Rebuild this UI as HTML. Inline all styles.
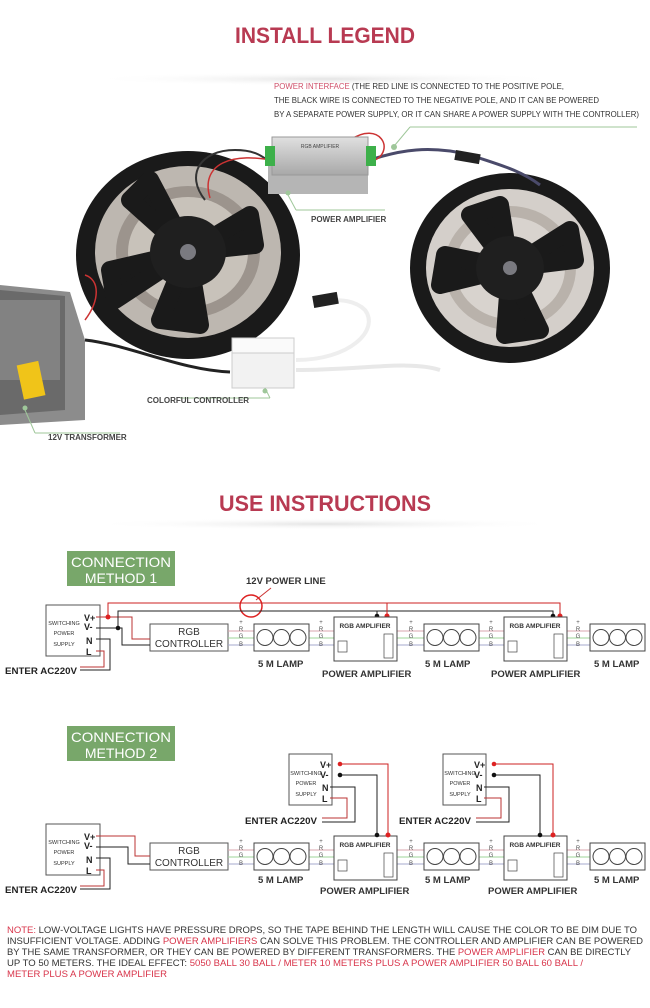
<!DOCTYPE html>
<html><head><meta charset="utf-8"><style>
html,body{margin:0;padding:0;background:#fff;}
svg{display:block;font-family:"Liberation Sans",sans-serif;}
</style></head><body>
<svg width="650" height="1008" viewBox="0 0 650 1008" xmlns="http://www.w3.org/2000/svg">
<defs>
<radialGradient id="sh" cx="0.5" cy="0.5" r="0.5"><stop offset="0" stop-color="#e4e4e4"/><stop offset="1" stop-color="#fff" stop-opacity="0"/></radialGradient>
<linearGradient id="met" x1="0" y1="0" x2="0" y2="1"><stop offset="0" stop-color="#e0e0e0"/><stop offset="1" stop-color="#a8a8a8"/></linearGradient>
</defs>
<rect width="650" height="1008" fill="#fff"/>
<ellipse cx="325" cy="79" rx="240" ry="7" fill="url(#sh)"/>
<text x="325" y="43" font-size="22" font-weight="bold" fill="#b83a52" text-anchor="middle" textLength="180" lengthAdjust="spacingAndGlyphs">INSTALL LEGEND</text>

<g font-size="8.3">
<text x="274" y="89" fill="#333" textLength="290" lengthAdjust="spacingAndGlyphs"><tspan fill="#d0506a">POWER INTERFACE</tspan>  (THE RED LINE IS CONNECTED TO THE POSITIVE POLE,</text>
<text x="274" y="103" fill="#333" textLength="325" lengthAdjust="spacingAndGlyphs">THE BLACK WIRE IS CONNECTED TO THE NEGATIVE POLE, AND IT CAN BE POWERED</text>
<text x="274" y="117" fill="#333" textLength="365" lengthAdjust="spacingAndGlyphs">BY A SEPARATE POWER SUPPLY, OR IT CAN SHARE A POWER SUPPLY WITH THE CONTROLLER)</text>
</g>
<line x1="395" y1="145" x2="410" y2="127" stroke="#9fc79a" stroke-width="1"/>
<line x1="410" y1="127" x2="637" y2="127" stroke="#9fc79a" stroke-width="1"/>
<circle cx="394" cy="147" r="3" fill="#9fc79a"/>

<ellipse cx="188" cy="255" rx="112" ry="104" fill="#1a1a1a"/>
<ellipse cx="188" cy="252" rx="93" ry="86" fill="#bdb7b0"/>
<ellipse cx="188" cy="252" rx="72" ry="66" fill="#9c948d"/>
<ellipse cx="188" cy="252" rx="60" ry="55" fill="#c8c2ba"/>
<path d="M188 252 L130 200 L150 180 Z M188 252 L250 215 L255 245 Z M188 252 L160 320 L200 325 Z M188 252 L110 270 L115 300 Z" fill="#1a1a1a" stroke="#1a1a1a" stroke-width="18" stroke-linejoin="round"/>
<ellipse cx="188" cy="252" rx="38" ry="36" fill="#1f1f1f"/>
<circle cx="188" cy="252" r="8" fill="#7a7a80"/>
<ellipse cx="510" cy="268" rx="100" ry="95" fill="#1a1a1a"/>
<ellipse cx="510" cy="268" rx="84" ry="79" fill="#d4cfca"/>
<ellipse cx="510" cy="268" rx="66" ry="62" fill="#b9b2ab"/>
<ellipse cx="510" cy="268" rx="55" ry="51" fill="#d8d3ce"/>
<path d="M510 268 L470 215 L500 205 Z M510 268 L570 230 L575 260 Z M510 268 L540 330 L505 335 Z M510 268 L440 285 L445 255 Z" fill="#1a1a1a" stroke="#1a1a1a" stroke-width="18" stroke-linejoin="round"/>
<ellipse cx="510" cy="268" rx="34" ry="32" fill="#1f1f1f"/>
<circle cx="510" cy="268" r="7" fill="#7a7a80"/>

<path d="M205 200 C185 175 200 150 235 150 C260 150 265 160 275 165" fill="none" stroke="#333" stroke-width="2"/>
<path d="M210 198 C200 165 230 150 280 162" fill="none" stroke="#c33" stroke-width="1.5"/>
<path d="M370 160 C400 150 430 145 470 155 C500 165 520 170 540 185" fill="none" stroke="#4a4a6a" stroke-width="3"/>
<path d="M350 140 C380 120 395 150 375 160" fill="none" stroke="#c33" stroke-width="1.5"/>
<rect x="455" y="152" width="25" height="10" fill="#222" transform="rotate(10 467 157)"/>
<rect x="268" y="162" width="100" height="32" fill="#b5b5b5"/>
<rect x="272" y="137" width="96" height="38" fill="url(#met)" stroke="#999"/>
<text x="320" y="148" font-size="5" fill="#444" text-anchor="middle">RGB AMPLIFIER</text>
<rect x="265" y="146" width="10" height="20" fill="#3db04a"/>
<rect x="366" y="146" width="10" height="20" fill="#3db04a"/>
<line x1="288" y1="195" x2="296" y2="210" stroke="#9fc79a"/>
<line x1="296" y1="210" x2="385" y2="210" stroke="#9fc79a"/>
<circle cx="288" cy="193" r="2.5" fill="#9fc79a"/>
<text x="311" y="222" font-size="8" font-weight="bold" fill="#444">POWER AMPLIFIER</text>

<path d="M0 285 L70 292 L85 340 L85 420 L0 425 Z" fill="#8c8c8c"/>
<path d="M0 290 L65 296 L65 410 L0 415 Z" fill="#6a6a6a"/>
<rect x="0" y="300" width="60" height="80" fill="#9a9a9a" opacity="0.5"/>
<rect x="20" y="363" width="22" height="35" fill="#f0c419" transform="rotate(-12 30 380)"/>
<path d="M85 320 C100 300 100 280 85 275" stroke="#c33" fill="none" stroke-width="1.5"/>
<path d="M85 340 C130 345 180 370 230 372" stroke="#222" fill="none" stroke-width="3"/>
<line x1="25" y1="410" x2="35" y2="433" stroke="#9fc79a"/>
<line x1="35" y1="433" x2="120" y2="433" stroke="#9fc79a"/>
<circle cx="25" cy="408" r="2.5" fill="#9fc79a"/>
<text x="48" y="440" font-size="8" font-weight="bold" fill="#444">12V TRANSFORMER</text>

<path d="M296 360 C350 360 380 330 365 310 C355 300 340 300 330 300" fill="none" stroke="#eee" stroke-width="4"/>
<path d="M296 370 C360 370 410 360 440 370" fill="none" stroke="#e8e8e8" stroke-width="4"/>
<rect x="313" y="294" width="25" height="12" fill="#222" transform="rotate(-10 325 300)"/>
<rect x="232" y="338" width="62" height="50" fill="#f2f2f2" stroke="#ccc"/>
<rect x="232" y="338" width="62" height="15" fill="#fafafa" stroke="#ccc"/>
<line x1="265" y1="388" x2="270" y2="398" stroke="#9fc79a"/>
<line x1="180" y1="398" x2="270" y2="398" stroke="#9fc79a"/>
<circle cx="265" cy="391" r="2.5" fill="#9fc79a"/>
<text x="147" y="403" font-size="8" font-weight="bold" fill="#444">COLORFUL CONTROLLER</text>

<ellipse cx="325" cy="524" rx="240" ry="6" fill="url(#sh)"/>
<text x="325" y="511" font-size="22" font-weight="bold" fill="#b83a52" text-anchor="middle" textLength="212" lengthAdjust="spacingAndGlyphs">USE INSTRUCTIONS</text>

<rect x="67" y="551" width="108" height="35" fill="#78a76a"/>
<text x="121" y="567" font-size="14" fill="#fff" text-anchor="middle" textLength="100" lengthAdjust="spacingAndGlyphs">CONNECTION</text>
<text x="121" y="583" font-size="14" fill="#fff" text-anchor="middle">METHOD 1</text>
<text x="246" y="584" font-size="9.5" font-weight="bold" fill="#333">12V POWER LINE</text>
<line x1="271" y1="588" x2="256" y2="600" stroke="#c33"/>
<circle cx="251" cy="606" r="11" fill="none" stroke="#d22" stroke-width="1.5"/>

<g>
<rect x="46" y="605" width="54" height="51" fill="#fff" stroke="#555"/>
<text x="64" y="625" font-size="5.5" fill="#333" text-anchor="middle">SWITCHING</text>
<text x="64" y="635" font-size="5.5" fill="#333" text-anchor="middle">POWER</text>
<text x="64" y="646" font-size="5.5" fill="#333" text-anchor="middle">SUPPLY</text>
<text x="84" y="621" font-size="9" font-weight="bold" fill="#222">V+</text>
<text x="84" y="630" font-size="9" font-weight="bold" fill="#222">V-</text>
<text x="86" y="644" font-size="9" font-weight="bold" fill="#222">N</text>
<text x="86" y="655" font-size="9" font-weight="bold" fill="#222">L</text>
<text x="5" y="674" font-size="9.5" font-weight="bold" fill="#222" textLength="72" lengthAdjust="spacingAndGlyphs">ENTER AC220V</text>
<polyline points="80,670 110,670 110,639 96,639" fill="none" stroke="#222"/>
<polyline points="80,667 104,667 104,651 96,651" fill="none" stroke="#b33"/>
<rect x="150" y="624" width="78" height="27" fill="#fff" stroke="#555"/>
<text x="189" y="635" font-size="10" fill="#333" text-anchor="middle">RGB</text>
<text x="189" y="647" font-size="10" fill="#333" text-anchor="middle">CONTROLLER</text>
</g>
<polyline points="96,617 132,617 132,639 150,639" fill="none" stroke="#b33"/>
<polyline points="96,628 122,628 122,645 150,645" fill="none" stroke="#222"/>
<polyline points="108,617 108,603 560,603 560,617" fill="none" stroke="#c22"/>
<polyline points="118,628 118,611 553,611 553,617" fill="none" stroke="#222"/>
<line x1="387" y1="603" x2="387" y2="617" stroke="#c22"/>
<line x1="377" y1="611" x2="377" y2="617" stroke="#222"/>
<circle cx="108" cy="617" r="2.5" fill="#d22"/><circle cx="118" cy="628" r="2.3" fill="#111"/>
<circle cx="387" cy="616" r="2.5" fill="#d22"/><circle cx="377" cy="616" r="2.3" fill="#111"/>
<circle cx="560" cy="616" r="2.5" fill="#d22"/><circle cx="553" cy="616" r="2.3" fill="#111"/>

<g font-size="6" fill="#555">
<g stroke-width="1">
<line x1="228" y1="631" x2="254" y2="631" stroke="#d8a6ae"/><line x1="228" y1="638" x2="254" y2="638" stroke="#9fd49a"/><line x1="228" y1="645" x2="254" y2="645" stroke="#a6a8cc"/>
<line x1="309" y1="631" x2="334" y2="631" stroke="#d8a6ae"/><line x1="309" y1="638" x2="334" y2="638" stroke="#9fd49a"/><line x1="309" y1="645" x2="334" y2="645" stroke="#a6a8cc"/>
<line x1="397" y1="631" x2="424" y2="631" stroke="#d8a6ae"/><line x1="397" y1="638" x2="424" y2="638" stroke="#9fd49a"/><line x1="397" y1="645" x2="424" y2="645" stroke="#a6a8cc"/>
<line x1="479" y1="631" x2="504" y2="631" stroke="#d8a6ae"/><line x1="479" y1="638" x2="504" y2="638" stroke="#9fd49a"/><line x1="479" y1="645" x2="504" y2="645" stroke="#a6a8cc"/>
<line x1="567" y1="631" x2="590" y2="631" stroke="#d8a6ae"/><line x1="567" y1="638" x2="590" y2="638" stroke="#9fd49a"/><line x1="567" y1="645" x2="590" y2="645" stroke="#a6a8cc"/>
</g>
<g text-anchor="middle">
<text x="241" y="624">+</text><text x="241" y="631">R</text><text x="241" y="638">G</text><text x="241" y="646">B</text>
<text x="321" y="624">+</text><text x="321" y="631">R</text><text x="321" y="638">G</text><text x="321" y="646">B</text>
<text x="411" y="624">+</text><text x="411" y="631">R</text><text x="411" y="638">G</text><text x="411" y="646">B</text>
<text x="491" y="624">+</text><text x="491" y="631">R</text><text x="491" y="638">G</text><text x="491" y="646">B</text>
<text x="578" y="624">+</text><text x="578" y="631">R</text><text x="578" y="638">G</text><text x="578" y="646">B</text>
</g>
<g fill="#fff" stroke="#444">
<rect x="254" y="624" width="55" height="27"/><circle cx="265" cy="637.5" r="8"/><circle cx="281.5" cy="637.5" r="8"/><circle cx="298" cy="637.5" r="8"/>
<rect x="424" y="624" width="55" height="27"/><circle cx="435" cy="637.5" r="8"/><circle cx="451.5" cy="637.5" r="8"/><circle cx="468" cy="637.5" r="8"/>
<rect x="590" y="624" width="55" height="27"/><circle cx="601" cy="637.5" r="8"/><circle cx="617.5" cy="637.5" r="8"/><circle cx="634" cy="637.5" r="8"/>
<rect x="334" y="617" width="63" height="44"/>
<rect x="504" y="617" width="63" height="44"/>
<rect x="338" y="641" width="9" height="11" stroke-width="0.7"/><rect x="384" y="634" width="9" height="24" stroke-width="0.7"/>
<rect x="508" y="641" width="9" height="11" stroke-width="0.7"/><rect x="554" y="634" width="9" height="24" stroke-width="0.7"/>
</g>
<g font-weight="bold" fill="#333" font-size="6.5" text-anchor="middle">
<text x="365" y="628">RGB AMPLIFIER</text><text x="535" y="628">RGB AMPLIFIER</text>
</g>
<g font-weight="bold" fill="#333" font-size="9.5">
<text x="258" y="667">5 M LAMP</text><text x="425" y="667">5 M LAMP</text><text x="594" y="667">5 M LAMP</text>
<text x="322" y="677">POWER AMPLIFIER</text><text x="491" y="677">POWER AMPLIFIER</text>
</g>
</g>

<rect x="67" y="726" width="108" height="35" fill="#78a76a"/>
<text x="121" y="742" font-size="14" fill="#fff" text-anchor="middle" textLength="100" lengthAdjust="spacingAndGlyphs">CONNECTION</text>
<text x="121" y="758" font-size="14" fill="#fff" text-anchor="middle">METHOD 2</text>

<g transform="translate(0,219)">
<rect x="46" y="605" width="54" height="51" fill="#fff" stroke="#555"/>
<text x="64" y="625" font-size="5.5" fill="#333" text-anchor="middle">SWITCHING</text>
<text x="64" y="635" font-size="5.5" fill="#333" text-anchor="middle">POWER</text>
<text x="64" y="646" font-size="5.5" fill="#333" text-anchor="middle">SUPPLY</text>
<text x="84" y="621" font-size="9" font-weight="bold" fill="#222">V+</text>
<text x="84" y="630" font-size="9" font-weight="bold" fill="#222">V-</text>
<text x="86" y="644" font-size="9" font-weight="bold" fill="#222">N</text>
<text x="86" y="655" font-size="9" font-weight="bold" fill="#222">L</text>
<text x="5" y="674" font-size="9.5" font-weight="bold" fill="#222" textLength="72" lengthAdjust="spacingAndGlyphs">ENTER AC220V</text>
<polyline points="80,670 110,670 110,639 96,639" fill="none" stroke="#222"/>
<polyline points="80,667 104,667 104,651 96,651" fill="none" stroke="#b33"/>
<rect x="150" y="624" width="78" height="27" fill="#fff" stroke="#555"/>
<text x="189" y="635" font-size="10" fill="#333" text-anchor="middle">RGB</text>
<text x="189" y="647" font-size="10" fill="#333" text-anchor="middle">CONTROLLER</text>
<polyline points="96,617 135,617 135,637 150,637" fill="none" stroke="#b33"/>
<polyline points="96,628 128,628 128,645 150,645" fill="none" stroke="#222"/>
</g>

<g transform="translate(0,219)" font-size="6" fill="#555">
<g stroke-width="1">
<line x1="228" y1="631" x2="254" y2="631" stroke="#d8a6ae"/><line x1="228" y1="638" x2="254" y2="638" stroke="#9fd49a"/><line x1="228" y1="645" x2="254" y2="645" stroke="#a6a8cc"/>
<line x1="309" y1="631" x2="334" y2="631" stroke="#d8a6ae"/><line x1="309" y1="638" x2="334" y2="638" stroke="#9fd49a"/><line x1="309" y1="645" x2="334" y2="645" stroke="#a6a8cc"/>
<line x1="397" y1="631" x2="424" y2="631" stroke="#d8a6ae"/><line x1="397" y1="638" x2="424" y2="638" stroke="#9fd49a"/><line x1="397" y1="645" x2="424" y2="645" stroke="#a6a8cc"/>
<line x1="479" y1="631" x2="504" y2="631" stroke="#d8a6ae"/><line x1="479" y1="638" x2="504" y2="638" stroke="#9fd49a"/><line x1="479" y1="645" x2="504" y2="645" stroke="#a6a8cc"/>
<line x1="567" y1="631" x2="590" y2="631" stroke="#d8a6ae"/><line x1="567" y1="638" x2="590" y2="638" stroke="#9fd49a"/><line x1="567" y1="645" x2="590" y2="645" stroke="#a6a8cc"/>
</g>
<g text-anchor="middle">
<text x="241" y="624">+</text><text x="241" y="631">R</text><text x="241" y="638">G</text><text x="241" y="646">B</text>
<text x="321" y="624">+</text><text x="321" y="631">R</text><text x="321" y="638">G</text><text x="321" y="646">B</text>
<text x="411" y="624">+</text><text x="411" y="631">R</text><text x="411" y="638">G</text><text x="411" y="646">B</text>
<text x="491" y="624">+</text><text x="491" y="631">R</text><text x="491" y="638">G</text><text x="491" y="646">B</text>
<text x="578" y="624">+</text><text x="578" y="631">R</text><text x="578" y="638">G</text><text x="578" y="646">B</text>
</g>
<g fill="#fff" stroke="#444">
<rect x="254" y="624" width="55" height="27"/><circle cx="265" cy="637.5" r="8"/><circle cx="281.5" cy="637.5" r="8"/><circle cx="298" cy="637.5" r="8"/>
<rect x="424" y="624" width="55" height="27"/><circle cx="435" cy="637.5" r="8"/><circle cx="451.5" cy="637.5" r="8"/><circle cx="468" cy="637.5" r="8"/>
<rect x="590" y="624" width="55" height="27"/><circle cx="601" cy="637.5" r="8"/><circle cx="617.5" cy="637.5" r="8"/><circle cx="634" cy="637.5" r="8"/>
<rect x="334" y="617" width="63" height="44"/>
<rect x="504" y="617" width="63" height="44"/>
<rect x="338" y="641" width="9" height="11" stroke-width="0.7"/><rect x="384" y="634" width="9" height="24" stroke-width="0.7"/>
<rect x="508" y="641" width="9" height="11" stroke-width="0.7"/><rect x="554" y="634" width="9" height="24" stroke-width="0.7"/>
</g>
<g font-weight="bold" fill="#333" font-size="6.5" text-anchor="middle">
<text x="365" y="628">RGB AMPLIFIER</text><text x="535" y="628">RGB AMPLIFIER</text>
</g>
<g font-weight="bold" fill="#333" font-size="9.5">
<text x="258" y="664">5 M LAMP</text><text x="425" y="664">5 M LAMP</text><text x="594" y="664">5 M LAMP</text>
<text x="320" y="675">POWER AMPLIFIER</text><text x="488" y="675">POWER AMPLIFIER</text>
</g>
</g>

<g>
<rect x="289" y="754" width="43" height="51" fill="#fff" stroke="#555"/>
<text x="306" y="775" font-size="5.5" fill="#333" text-anchor="middle">SWITCHING</text>
<text x="306" y="785" font-size="5.5" fill="#333" text-anchor="middle">POWER</text>
<text x="306" y="796" font-size="5.5" fill="#333" text-anchor="middle">SUPPLY</text>
<text x="320" y="768" font-size="9" font-weight="bold" fill="#222">V+</text>
<text x="320" y="778" font-size="9" font-weight="bold" fill="#222">V-</text>
<text x="322" y="791" font-size="9" font-weight="bold" fill="#222">N</text>
<text x="322" y="802" font-size="9" font-weight="bold" fill="#222">L</text>
<polyline points="340,764 388,764 388,836" fill="none" stroke="#c22"/>
<polyline points="340,775 377,775 377,836" fill="none" stroke="#222"/>
<circle cx="340" cy="764" r="2.3" fill="#d22"/><circle cx="340" cy="775" r="2.3" fill="#111"/>
<circle cx="388" cy="835" r="2.5" fill="#d22"/><circle cx="377" cy="835" r="2.3" fill="#111"/>
<polyline points="322,822 355,822 355,787 330,787" fill="none" stroke="#222"/>
<polyline points="322,818 347,818 347,798 330,798" fill="none" stroke="#b33"/>
<text x="245" y="824" font-size="9.5" font-weight="bold" fill="#222" textLength="72" lengthAdjust="spacingAndGlyphs">ENTER AC220V</text>
</g>
<g transform="translate(154,0)">
<rect x="289" y="754" width="43" height="51" fill="#fff" stroke="#555"/>
<text x="306" y="775" font-size="5.5" fill="#333" text-anchor="middle">SWITCHING</text>
<text x="306" y="785" font-size="5.5" fill="#333" text-anchor="middle">POWER</text>
<text x="306" y="796" font-size="5.5" fill="#333" text-anchor="middle">SUPPLY</text>
<text x="320" y="768" font-size="9" font-weight="bold" fill="#222">V+</text>
<text x="320" y="778" font-size="9" font-weight="bold" fill="#222">V-</text>
<text x="322" y="791" font-size="9" font-weight="bold" fill="#222">N</text>
<text x="322" y="802" font-size="9" font-weight="bold" fill="#222">L</text>
<polyline points="340,764 399,764 399,836" fill="none" stroke="#c22"/>
<polyline points="340,775 386,775 386,836" fill="none" stroke="#222"/>
<circle cx="340" cy="764" r="2.3" fill="#d22"/><circle cx="340" cy="775" r="2.3" fill="#111"/>
<circle cx="399" cy="835" r="2.5" fill="#d22"/><circle cx="386" cy="835" r="2.3" fill="#111"/>
<polyline points="322,822 355,822 355,787 330,787" fill="none" stroke="#222"/>
<polyline points="322,818 347,818 347,798 330,798" fill="none" stroke="#b33"/>
<text x="245" y="824" font-size="9.5" font-weight="bold" fill="#222" textLength="72" lengthAdjust="spacingAndGlyphs">ENTER AC220V</text>
</g>

<g font-size="9.6" fill="#333">
<text x="7" y="933" textLength="630" lengthAdjust="spacingAndGlyphs"><tspan fill="#d8344a">NOTE:</tspan> LOW-VOLTAGE LIGHTS HAVE PRESSURE DROPS, SO THE TAPE BEHIND THE LENGTH WILL CAUSE THE COLOR TO BE DIM DUE TO</text>
<text x="7" y="944" textLength="636" lengthAdjust="spacingAndGlyphs">INSUFFICIENT VOLTAGE. ADDING <tspan fill="#d8344a">POWER AMPLIFIERS</tspan> CAN SOLVE THIS PROBLEM. THE CONTROLLER AND AMPLIFIER CAN BE POWERED</text>
<text x="7" y="955" textLength="624" lengthAdjust="spacingAndGlyphs">BY THE SAME TRANSFORMER, OR THEY CAN BE POWERED BY DIFFERENT TRANSFORMERS. THE <tspan fill="#d8344a">POWER AMPLIFIER</tspan> CAN BE DIRECTLY</text>
<text x="7" y="966" textLength="576" lengthAdjust="spacingAndGlyphs">UP TO 50 METERS. THE IDEAL EFFECT: <tspan fill="#d8344a">5050 BALL 30 BALL / METER 10 METERS PLUS A POWER AMPLIFIER 50 BALL 60 BALL /</tspan></text>
<text x="7" y="977" fill="#d8344a" textLength="160" lengthAdjust="spacingAndGlyphs">METER PLUS A POWER AMPLIFIER</text>
</g>
</svg>
</body></html>
